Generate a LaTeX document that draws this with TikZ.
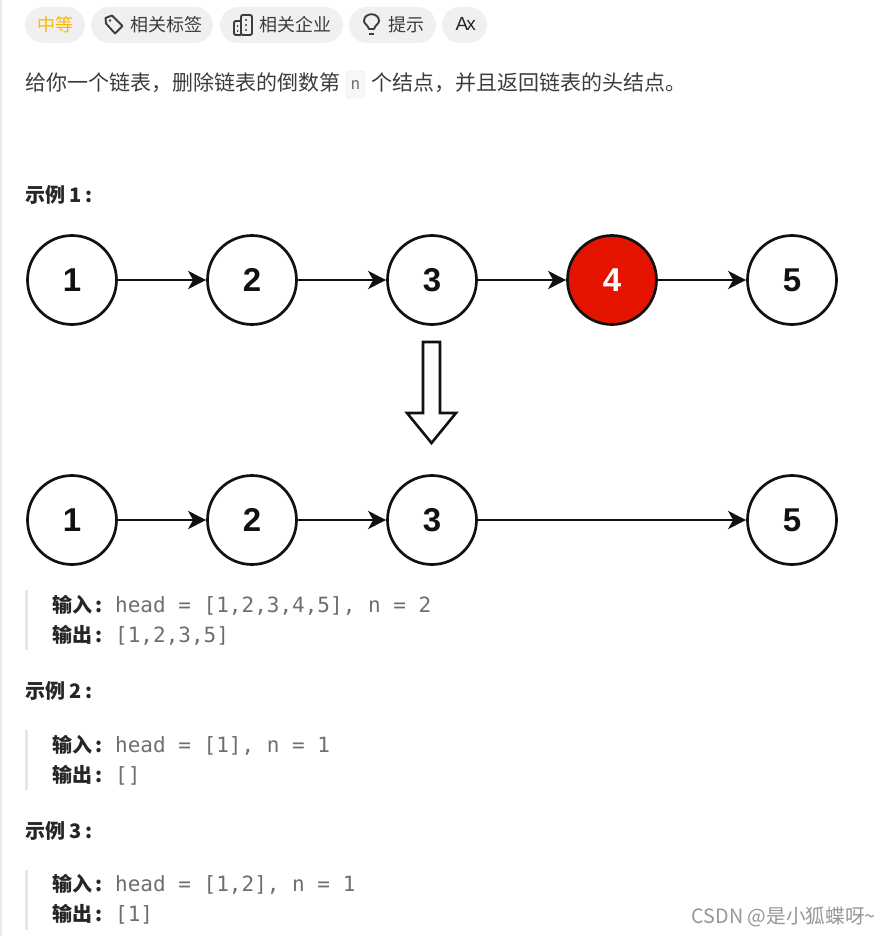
\documentclass[tikz,border=0pt]{standalone}
\usepackage{fontspec}
\setmainfont{Noto Sans CJK SC}
\setsansfont{Liberation Sans}
\setmonofont{DejaVu Sans Mono}
\usetikzlibrary{arrows.meta, positioning}
\definecolor{InkColor}{RGB}{17,17,17}
\definecolor{TextColor}{RGB}{60,60,60}
\definecolor{HeadColor}{RGB}{38,38,38}
\definecolor{CodeColor}{RGB}{110,110,110}
\definecolor{PillColor}{RGB}{240,240,240}
\definecolor{RuleColor}{RGB}{232,232,232}
\definecolor{EasyColor}{RGB}{255,184,0}
\definecolor{DeleteColor}{RGB}{229,20,0}
\definecolor{MarkColor}{RGB}{150,150,150}
\tikzstyle{listnode} = [circle, draw=InkColor, line width=2.7pt, fill=white, minimum size=89pt, inner sep=0pt, text=InkColor, font=\sffamily\bfseries\fontsize{33}{33}\selectfont]
\tikzstyle{arrow} = [line width=2.6pt, InkColor, ->, >={Stealth[length=18pt,width=18pt,inset=5pt]}]
\tikzstyle{pill} = [PillColor, rounded corners=18pt]
\tikzstyle{pilltext} = [anchor=base west, inner sep=0pt, text=TextColor, font=\fontsize{18}{18}\selectfont]
\tikzstyle{icon} = [line width=1.9pt, TextColor, line join=round]
\tikzstyle{para} = [anchor=base west, inner sep=0pt, text=TextColor, font=\fontsize{21}{21}\selectfont]
\tikzstyle{heading} = [anchor=base west, inner sep=0pt, text=HeadColor, font=\bfseries\fontsize{20}{20}\selectfont]
\tikzstyle{code} = [anchor=base west, inner sep=0pt, text=CodeColor, font=\ttfamily\fontsize{21}{21}\selectfont]
\tikzstyle{quotebar} = [RuleColor]
\begin{document}
\begin{tikzpicture}[x=1pt, y=-1pt]
    \useasboundingbox (0,0) rectangle (890,936);
    % Page edge
    \fill[RuleColor] (0,0) rectangle (2,936);

    % Tag row
    \fill[pill] (25,7) rectangle (85,43);
    \fill[pill] (91,7) rectangle (213,43);
    \fill[pill] (220,7) rectangle (343,43);
    \fill[pill] (349,7) rectangle (436,43);
    \fill[pill] (442,7) rectangle (487,43);
    \node[pilltext, text=EasyColor] (level) at (37,32) {中等};
    \node[pilltext] (tags) at (130,32) {相关标签};
    \node[pilltext] (firms) at (259,32) {相关企业};
    \node[pilltext] (hint) at (388,32) {提示};
    \node[pilltext, text=HeadColor, font=\sffamily\fontsize{19}{19}\selectfont] (lang) at (455.5,31) {A\kern-2pt x};

    % Icons
    \draw[icon] (105.5,18) -- (112,15.5) -- (122.5,26) -- (115,33.5) -- (106,23.5) -- cycle;
    \fill[TextColor] (110,20.5) circle (1.3pt);
    \draw[icon, rounded corners=2pt] (241,15) rectangle (252,35);
    \draw[icon, rounded corners=2pt] (241,21) -- (234,21) -- (234,35) -- (241,35);
    \fill[TextColor] (246,20) circle (1.2pt) (246,25) circle (1.2pt) (246,30) circle (1.2pt) (237.5,26) circle (1pt) (237.5,31) circle (1pt);
    \draw[icon] (369,29) .. controls (368,25) and (364,24) .. (364,21) .. controls (364,12) and (379,12) .. (379,21) .. controls (379,24) and (375,25) .. (374,29) -- cycle;
    \draw[icon] (369,34) -- (374,34);

    % Problem statement
    \node[para] (intro) at (25,91) {给你一个链表，删除链表的倒数第};
    \draw[RuleColor, fill=black!3, rounded corners=3pt] (346,71) rectangle (365,98);
    \node[code, font=\ttfamily\fontsize{16}{16}\selectfont] (varn) at (350.5,90) {n};
    \node[para] (introrest) at (371,91) {个结点，并且返回链表的头结点。};

    \node[heading] (ex1) at (25,202) {示例 1\,:};

    % Before
    \node[listnode] (a1) at (72,280) {1};
    \node[listnode] (a2) at (252,280) {2};
    \node[listnode] (a3) at (432,280) {3};
    \node[listnode, fill=DeleteColor, text=white] (a4) at (612,280) {4};
    \node[listnode] (a5) at (792,280) {5};
    \draw[arrow] (a1) -- (a2);
    \draw[arrow] (a2) -- (a3);
    \draw[arrow] (a3) -- (a4);
    \draw[arrow] (a4) -- (a5);

    % Block arrow
    \draw[line width=2.6pt, InkColor, fill=white, line join=miter] (423,342) -- (440,342) -- (440,413) -- (456,413) -- (431.5,443) -- (407,413) -- (423,413) -- cycle;

    % After
    \node[listnode] (b1) at (72,520) {1};
    \node[listnode] (b2) at (252,520) {2};
    \node[listnode] (b3) at (432,520) {3};
    \node[listnode] (b5) at (792,520) {5};
    \draw[arrow] (b1) -- (b2);
    \draw[arrow] (b2) -- (b3);
    \draw[arrow] (b3) -- (b5);

    % Example 1
    \fill[quotebar] (25,590) rectangle (28,650);
    \node[heading] (in1) at (52,612) {输入\,:};
    \node[code] (in1val) at (115,612) {head = [1,2,3,4,5], n = 2};
    \node[heading] (out1) at (52,642) {输出\,:};
    \node[code] (out1val) at (115,642) {[1,2,3,5]};

    % Example 2
    \node[heading] (ex2) at (25,698) {示例 2\,:};
    \fill[quotebar] (25,730) rectangle (28,790);
    \node[heading] (in2) at (52,752) {输入\,:};
    \node[code] (in2val) at (115,752) {head = [1], n = 1};
    \node[heading] (out2) at (52,782) {输出\,:};
    \node[code] (out2val) at (115,782) {[]};

    % Example 3
    \node[heading] (ex3) at (25,838) {示例 3\,:};
    \fill[quotebar] (25,870) rectangle (28,930);
    \node[heading] (in3) at (52,891) {输入\,:};
    \node[code] (in3val) at (115,891) {head = [1,2], n = 1};
    \node[heading] (out3) at (52,921) {输出\,:};
    \node[code] (out3val) at (115,921) {[1]};

    % Watermark
    \node[anchor=base east, inner sep=0pt, text=MarkColor, font=\fontsize{19.7}{19.7}\selectfont] (mark) at (876,923) {CSDN @是小狐蝶呀\textasciitilde};
\end{tikzpicture}
\end{document}
